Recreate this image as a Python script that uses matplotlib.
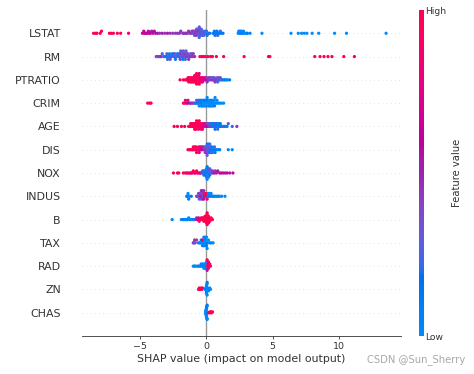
import numpy as np
import matplotlib
matplotlib.use("Agg")
import matplotlib.pyplot as plt
from matplotlib.colors import LinearSegmentedColormap, Normalize
import matplotlib.cm as cm

# ---------------- data (shap value, feature level 0=low .. 9=high) ----------------
features = ["LSTAT", "RM", "PTRATIO", "CRIM", "AGE", "DIS", "NOX",
            "INDUS", "B", "TAX", "RAD", "ZN", "CHAS"]

LSTAT = [(-8.55, 9), (-8.4, 9), (-8.3, 9), (-8.05, 9), (-7.95, 9), (-7.35, 9), (-7.2, 9),
         (-7.05, 9), (-6.75, 9), (-6.5, 9), (-5.9, 8),
         (-4.85, 6), (-4.75, 6), (-4.7, 5), (-4.6, 6), (-4.55, 5), (-4.45, 6), (-4.4, 5),
         (-4.3, 5), (-4.25, 6), (-4.15, 5), (-4.05, 5), (-3.95, 5), (-3.85, 5), (-3.7, 5),
         (-3.55, 4), (-3.35, 5), (-3.15, 4), (-2.95, 5), (-2.75, 4), (-2.55, 4), (-2.35, 4),
         (-2.2, 4), (-2.05, 4), (-1.95, 4), (-1.8, 4), (-1.7, 4), (-1.6, 4), (-1.5, 4),
         (-1.45, 4), (-1.35, 4), (-1.25, 4),
         (-1.15, 4), (-1.1, 4), (-1.05, 3), (-1.0, 4), (-0.95, 3), (-0.9, 4), (-0.9, 3),
         (-0.85, 4), (-0.8, 3), (-0.8, 4), (-0.75, 3), (-0.7, 3), (-0.7, 4), (-0.65, 3),
         (-0.65, 4), (-0.6, 3), (-0.6, 2), (-0.55, 2), (-0.55, 3), (-0.5, 3), (-0.5, 4),
         (-0.45, 3), (-0.45, 2), (-0.4, 3), (-0.4, 2), (-0.35, 2), (-0.35, 3), (-0.3, 3),
         (-0.25, 2), (-0.25, 3), (-0.2, 2), (-0.15, 3), (-0.1, 2), (-0.05, 2), (0.0, 2),
         (0.05, 1), (0.15, 2), (0.25, 1),
         (0.5, 1), (0.55, 2), (0.6, 1), (0.65, 1), (0.7, 2), (0.75, 1), (0.8, 1), (0.85, 2),
         (0.9, 1), (1.0, 1), (1.05, 2), (1.15, 1), (1.25, 1),
         (2.4, 0), (2.45, 1), (2.5, 0), (2.55, 0), (2.6, 1), (2.65, 0), (2.7, 0), (2.75, 1),
         (2.8, 0), (2.9, 0), (3.0, 0), (3.1, 1), (3.3, 0),
         (4.2, 0), (6.4, 0), (6.95, 0), (7.2, 0), (7.4, 0), (7.6, 0), (8.0, 0), (8.5, 0),
         (9.7, 0), (10.6, 0), (13.6, 0)]

RM = [(-3.8, 4), (-3.7, 3), (-3.6, 4), (-3.5, 3), (-3.45, 4), (-3.35, 2), (-3.25, 3),
      (-3.15, 2), (-3.05, 1), (-3.0, 3), (-2.95, 2), (-2.9, 1), (-2.85, 2), (-2.8, 1),
      (-2.75, 3), (-2.7, 2), (-2.65, 1), (-2.6, 2), (-2.55, 3), (-2.5, 1), (-2.45, 2),
      (-2.4, 3), (-2.35, 1), (-2.3, 2), (-2.25, 3), (-2.2, 1), (-2.15, 2), (-2.1, 3),
      (-2.05, 2), (-2.0, 1), (-2.0, 3), (-1.95, 2), (-1.9, 3), (-1.9, 4), (-1.85, 2),
      (-1.8, 3), (-1.8, 1), (-1.75, 3), (-1.7, 4), (-1.7, 2), (-1.65, 3), (-1.6, 4),
      (-1.6, 2), (-1.55, 3), (-1.5, 4), (-1.5, 3), (-1.45, 4), (-1.4, 3), (-1.35, 4),
      (-1.3, 3), (-1.25, 4), (-1.2, 3), (-1.15, 4), (-1.1, 3), (-1.05, 4), (-1.0, 4),
      (-0.9, 4),
      (-0.5, 8), (-0.35, 9), (-0.25, 8), (-0.1, 9), (0.1, 8), (0.3, 9), (0.45, 8), (0.75, 9),
      (1.3, 9), (2.85, 9), (4.7, 9), (4.8, 9), (8.2, 9), (8.6, 9), (8.9, 9), (9.2, 9),
      (9.5, 9), (10.4, 9), (11.2, 9)]

PTRATIO = [(-2.0, 9), (-1.75, 9), (-1.6, 9), (-1.5, 8), (-1.45, 9), (-1.4, 9), (-1.35, 8),
           (-1.3, 9), (-1.3, 9), (-1.25, 8), (-1.2, 9), (-1.2, 9), (-1.15, 8), (-1.1, 9),
           (-1.1, 9), (-1.05, 9), (-1.0, 8), (-1.0, 9), (-0.95, 9), (-0.95, 8), (-0.9, 9),
           (-0.9, 9), (-0.85, 8), (-0.85, 9), (-0.8, 9), (-0.8, 9), (-0.75, 8), (-0.75, 9),
           (-0.7, 9), (-0.7, 8), (-0.65, 9), (-0.65, 9), (-0.6, 8), (-0.6, 9), (-0.55, 9),
           (-0.55, 7), (-0.5, 8), (-0.5, 9), (-0.45, 9), (-0.4, 7), (-0.4, 8), (-0.35, 9),
           (-0.3, 6), (-0.3, 8), (-0.25, 7), (-0.2, 9), (-0.15, 5), (-0.1, 7), (-0.05, 5),
           (0.0, 4), (0.05, 4), (0.1, 5), (0.15, 4), (0.2, 3), (0.25, 4), (0.3, 4), (0.35, 3),
           (0.4, 4), (0.45, 3), (0.5, 4), (0.5, 3), (0.55, 4), (0.6, 3), (0.65, 4), (0.7, 3),
           (0.75, 4), (0.8, 3), (0.85, 2), (0.9, 3), (0.95, 4), (1.0, 2), (1.05, 3), (1.1, 2),
           (1.2, 1), (1.3, 2), (1.4, 1), (1.5, 1), (1.6, 0), (1.75, 1)]

CRIM = [(-4.45, 9), (-4.3, 9), (-4.2, 9),
        (-1.75, 8), (-1.65, 9), (-1.6, 7), (-1.5, 8), (-1.45, 6), (-1.4, 7), (-1.3, 5),
        (-1.2, 5), (-1.1, 4), (-1.0, 4),
        (-0.9, 2), (-0.8, 1), (-0.75, 3), (-0.7, 1), (-0.65, 2), (-0.6, 1), (-0.55, 0),
        (-0.5, 1), (-0.5, 2), (-0.45, 0), (-0.4, 1), (-0.4, 0), (-0.35, 1), (-0.3, 0),
        (-0.3, 1), (-0.25, 0), (-0.2, 1), (-0.2, 0), (-0.15, 0), (-0.1, 1), (-0.1, 0),
        (-0.05, 0), (0.0, 1), (0.0, 0), (0.05, 0), (0.1, 0), (0.1, 1), (0.15, 0), (0.2, 0),
        (0.2, 0), (0.25, 1), (0.3, 0), (0.3, 0), (0.35, 0), (0.4, 0), (0.4, 1), (0.45, 0),
        (0.5, 0), (0.5, 0), (0.55, 0), (0.6, 0), (0.6, 1), (0.65, 0), (0.7, 0), (0.75, 0),
        (0.8, 0), (0.9, 0), (1.0, 0), (1.15, 0), (1.3, 0)]

AGE = [(-2.45, 9), (-2.2, 9), (-1.9, 8), (-1.65, 9), (-1.35, 9), (-1.25, 8), (-1.2, 9),
       (-1.15, 9), (-1.1, 8), (-1.05, 9), (-1.0, 9), (-0.95, 8), (-0.9, 9), (-0.9, 9),
       (-0.85, 9), (-0.8, 8), (-0.8, 9), (-0.75, 9), (-0.7, 9), (-0.7, 8), (-0.65, 9),
       (-0.6, 9), (-0.6, 7), (-0.55, 9), (-0.5, 8), (-0.5, 9), (-0.45, 9), (-0.4, 8),
       (-0.4, 9), (-0.35, 7), (-0.3, 9), (-0.3, 8), (-0.25, 6), (-0.2, 8), (-0.15, 7),
       (-0.1, 5), (0.0, 5), (0.05, 4), (0.1, 6), (0.15, 3), (0.2, 4), (0.25, 2), (0.3, 4),
       (0.35, 2), (0.4, 3), (0.45, 1), (0.5, 2), (0.5, 1), (0.55, 1), (0.6, 3), (0.65, 1),
       (0.7, 2), (0.7, 1), (0.75, 1), (0.8, 1), (0.85, 2), (0.9, 1), (0.95, 1), (1.0, 2),
       (1.05, 1), (1.1, 1), (1.2, 1), (1.3, 2), (1.4, 1), (1.55, 1), (1.65, 3), (1.95, 2),
       (2.3, 4)]

DIS = [(-1.4, 9), (-1.3, 8), (-1.2, 9), (-1.1, 8), (-1.05, 9), (-1.0, 9), (-0.95, 8),
       (-0.9, 9), (-0.85, 9), (-0.8, 8), (-0.75, 9), (-0.7, 9), (-0.65, 8), (-0.6, 9),
       (-0.55, 7), (-0.5, 8), (-0.5, 9), (-0.45, 6), (-0.4, 7), (-0.35, 6), (-0.3, 5),
       (-0.25, 5), (-0.2, 4), (-0.15, 4), (-0.1, 3), (-0.1, 4), (-0.05, 4), (0.0, 3),
       (0.0, 4), (0.05, 2), (0.05, 3), (0.1, 3), (0.1, 2), (0.15, 3), (0.15, 1), (0.2, 2),
       (0.2, 3), (0.25, 1), (0.25, 2), (0.3, 1), (0.3, 3), (0.35, 2), (0.4, 1), (0.4, 1),
       (0.45, 2), (0.5, 1), (0.55, 1), (0.6, 2), (0.65, 1), (0.7, 1), (0.8, 1), (0.9, 0),
       (1.0, 1), (1.65, 0), (1.95, 0)]

NOX = [(-2.5, 9), (-2.2, 9), (-2.1, 8), (-1.75, 9), (-1.6, 8), (-1.5, 9), (-1.4, 9),
       (-1.3, 8), (-1.2, 9), (-1.15, 7), (-1.05, 8), (-1.0, 9), (-0.9, 8), (-0.85, 7),
       (-0.75, 9), (-0.7, 8), (-0.6, 7), (-0.5, 7), (-0.45, 5), (-0.35, 4), (-0.3, 3),
       (-0.25, 2), (-0.2, 1), (-0.2, 2), (-0.15, 1), (-0.1, 0), (-0.1, 1), (-0.05, 2),
       (-0.05, 1), (0.0, 1), (0.0, 0), (0.0, 2), (0.05, 1), (0.05, 0), (0.1, 1), (0.1, 2),
       (0.1, 0), (0.15, 1), (0.15, 0), (0.2, 1), (0.2, 2), (0.25, 1), (0.25, 3), (0.3, 2),
       (0.35, 3), (0.4, 3), (0.45, 4), (0.5, 4), (0.6, 5), (0.65, 4), (0.75, 5), (0.85, 5),
       (1.0, 6), (1.1, 5), (1.25, 6), (1.4, 5), (1.55, 6), (1.75, 5), (2.0, 6)]

INDUS = [(-1.5, 0), (-1.45, 1), (-1.4, 0), (-1.35, 1), (-1.3, 0), (-1.15, 1),
         (-0.75, 3), (-0.7, 4), (-0.65, 3), (-0.6, 4), (-0.55, 3), (-0.5, 4), (-0.5, 3),
         (-0.45, 5), (-0.45, 4), (-0.4, 3), (-0.4, 4), (-0.35, 5), (-0.35, 3), (-0.3, 4),
         (-0.3, 5), (-0.25, 3), (-0.25, 4), (-0.2, 5), (-0.2, 4), (-0.15, 6), (-0.1, 8),
         (-0.05, 9), (0.0, 9), (0.05, 8), (0.1, 1), (0.15, 0), (0.2, 1), (0.25, 0),
         (0.3, 1), (0.35, 0), (0.45, 1), (0.5, 0), (0.6, 1), (0.7, 0), (0.8, 0), (0.9, 1),
         (1.0, 0), (1.15, 0), (1.4, 0)]

B = [(-2.6, 0), (-1.9, 1), (-1.8, 0), (-1.7, 1), (-1.6, 0), (-1.5, 0), (-1.45, 1),
     (-1.35, 0), (-1.3, 0), (-1.2, 1), (-1.15, 0), (-1.05, 0), (-0.95, 1), (-0.85, 2),
     (-0.75, 4), (-0.7, 5), (-0.65, 6), (-0.6, 7), (-0.55, 8), (-0.5, 9), (-0.45, 8),
     (-0.4, 9), (-0.35, 9), (-0.3, 9), (-0.25, 9), (-0.2, 9), (-0.2, 9), (-0.15, 9),
     (-0.15, 9), (-0.1, 9), (-0.1, 9), (-0.05, 9), (-0.05, 9), (0.0, 9), (0.0, 9),
     (0.0, 9), (0.05, 9), (0.05, 9), (0.05, 9), (0.1, 9), (0.1, 9), (0.1, 9), (0.15, 9),
     (0.15, 9), (0.2, 9), (0.2, 9), (0.25, 9), (0.3, 9), (0.35, 9), (0.45, 9)]

TAX = [(-1.0, 4), (-0.95, 4), (-0.9, 4), (-0.85, 3), (-0.75, 4), (-0.6, 2), (-0.5, 1),
       (-0.45, 0), (-0.4, 1), (-0.35, 0), (-0.3, 8), (-0.3, 1), (-0.25, 0), (-0.25, 9),
       (-0.2, 1), (-0.2, 0), (-0.15, 0), (-0.15, 1), (-0.1, 0), (-0.1, 1), (-0.05, 0),
       (-0.05, 0), (0.0, 1), (0.0, 0), (0.05, 0), (0.1, 1), (0.15, 0), (0.25, 0),
       (0.35, 1), (0.5, 0)]

RAD = [(-1.0, 0), (-0.9, 1), (-0.85, 0), (-0.7, 0), (-0.6, 1), (-0.5, 0), (-0.45, 0),
       (-0.4, 1), (-0.35, 0), (-0.3, 0), (-0.25, 1), (-0.2, 0), (-0.2, 0), (-0.15, 1),
       (-0.1, 0), (-0.1, 0), (-0.05, 1), (-0.05, 0), (0.0, 2), (0.0, 0), (0.05, 5),
       (0.05, 9), (0.1, 9), (0.1, 8), (0.15, 9), (0.15, 9), (0.2, 9), (0.25, 8), (0.3, 9)]

ZN = [(-0.6, 9), (-0.55, 9), (-0.5, 9), (-0.45, 8), (-0.4, 9), (-0.35, 9), (-0.3, 8),
      (-0.1, 0), (-0.05, 0), (-0.05, 1), (0.0, 0), (0.0, 0), (0.0, 1), (0.0, 0), (0.0, 0),
      (0.05, 0), (0.05, 0), (0.05, 1), (0.1, 0), (0.1, 0), (0.15, 0), (0.2, 1), (0.25, 0),
      (0.3, 0)]

CHAS = [(-0.05, 0), (-0.05, 0), (-0.05, 1), (-0.05, 0), (-0.05, 0), (-0.05, 0),
        (0.0, 0), (0.0, 0), (0.0, 1), (0.0, 0), (0.0, 0), (0.0, 0), (0.0, 0), (0.0, 1),
        (0.05, 0), (0.05, 0), (0.05, 0), (0.05, 1),
        (0.15, 9), (0.2, 9), (0.25, 9), (0.3, 9), (0.35, 9), (0.4, 9), (0.45, 9)]

rows = [LSTAT, RM, PTRATIO, CRIM, AGE, DIS, NOX, INDUS, B, TAX, RAD, ZN, CHAS]

xticks = [-5, 0, 5, 10]
xlabel = "SHAP value (impact on model output)"
cbar_label = "Feature value"
cbar_ticklabels = ["Low", "High"]
watermark = "CSDN @Sun_Sherry"


# ---------------- shap red-blue colormap (LCH interpolation) ----------------
def lch2rgb(l, c, h):
    a = c * np.cos(h)
    b = c * np.sin(h)
    fy = (l + 16.0) / 116.0
    fx = fy + a / 500.0
    fz = fy - b / 200.0

    def finv(t):
        return t ** 3 if t > 6 / 29 else 3 * (6 / 29) ** 2 * (t - 4 / 29)

    X = 0.95047 * finv(fx)
    Y = 1.0 * finv(fy)
    Z = 1.08883 * finv(fz)
    lin = [3.2406 * X - 1.5372 * Y - 0.4986 * Z,
           -0.9689 * X + 1.8758 * Y + 0.0415 * Z,
           0.0557 * X - 0.2040 * Y + 1.0570 * Z]
    out = []
    for u in lin:
        u = 1.055 * u ** (1 / 2.4) - 0.055 if u > 0.0031308 else 12.92 * u
        out.append(min(max(u, 0.0), 1.0))
    return out


blue_lch = [54.0, 70.0, 4.6588]
red_lch = [54.0, 90.0, 0.35470565 + 2 * np.pi]
l_mid = 40.0
nsteps = 100
l_vals = list(np.linspace(blue_lch[0], l_mid, nsteps // 2)) + list(np.linspace(l_mid, red_lch[0], nsteps // 2))
c_vals = np.linspace(blue_lch[1], red_lch[1], nsteps)
h_vals = np.linspace(blue_lch[2], red_lch[2], nsteps)
cmap_colors = [lch2rgb(l, c, h) for l, c, h in zip(l_vals, c_vals, h_vals)]
red_blue = LinearSegmentedColormap.from_list("red_blue", cmap_colors)

# ---------------- figure ----------------
W, H = 474, 374
fig = plt.figure(figsize=(W / 100, H / 100), dpi=100)
ax = fig.add_axes([81.7 / W, 38 / H, (401 - 81.7) / W, 326 / H])

n = len(features)
row_height = 0.4
binw = 0.1
axis_color = "#333333"

ax.axvline(x=0, color="#999999", lw=1.0, zorder=-1)

for i, (name, row) in enumerate(zip(features, rows)):
    pos = n - 1 - i
    ax.axhline(y=pos, color="#cccccc", lw=0.5, dashes=(1, 5), zorder=-1)
    shaps = np.array([p[0] for p in row], dtype=float)
    vals = np.array([p[1] for p in row], dtype=float) / 9.0
    N = len(shaps)
    quant = np.round(shaps / binw)
    order = np.argsort(quant, kind="stable")
    ys = np.zeros(N)
    layer = 0
    last_bin = None
    for ind in order:
        if quant[ind] != last_bin:
            layer = 0
        ys[ind] = np.ceil(layer / 2) * ((layer % 2) * 2 - 1)
        layer += 1
        last_bin = quant[ind]
    ys *= 0.9 * (row_height / np.max(ys + 1))
    ax.scatter(shaps, pos + ys, c=vals, cmap=red_blue, vmin=0, vmax=1,
               s=5.5, linewidths=0, alpha=1, zorder=3)

ax.set_ylim(-1, n)
ax.set_xlim(-9.45, 14.73)
ax.set_yticks(range(n))
ax.set_yticklabels(features[::-1], fontsize=7.9, color=axis_color)
ax.tick_params(axis="y", length=0, pad=15)
ax.set_xticks(xticks)
ax.tick_params(axis="x", labelsize=6.8, colors=axis_color, length=2.2, width=0.6, pad=2)
for side in ["top", "right", "left"]:
    ax.spines[side].set_visible(False)
ax.spines["bottom"].set_color(axis_color)
ax.spines["bottom"].set_linewidth(0.6)
ax.set_xlabel(xlabel, fontsize=7.9, color=axis_color, labelpad=2)

# colorbar
cax = fig.add_axes([419 / W, 38 / H, 4.5 / W, 326 / H])
m = cm.ScalarMappable(cmap=red_blue, norm=Normalize(0, 1))
cb = fig.colorbar(m, cax=cax, ticks=[0, 1])
cb.set_ticklabels(cbar_ticklabels)
cb.ax.tick_params(labelsize=6.6, length=0, pad=1.5, colors=axis_color)
cb.outline.set_visible(False)
cb.set_label(cbar_label, size=7.2, labelpad=4, color=axis_color)

fig.text(465 / W, 14 / H, watermark, ha="right", va="center", fontsize=7.2,
         color="#a8a8a8")

fig.savefig("out.png", dpi=100)
